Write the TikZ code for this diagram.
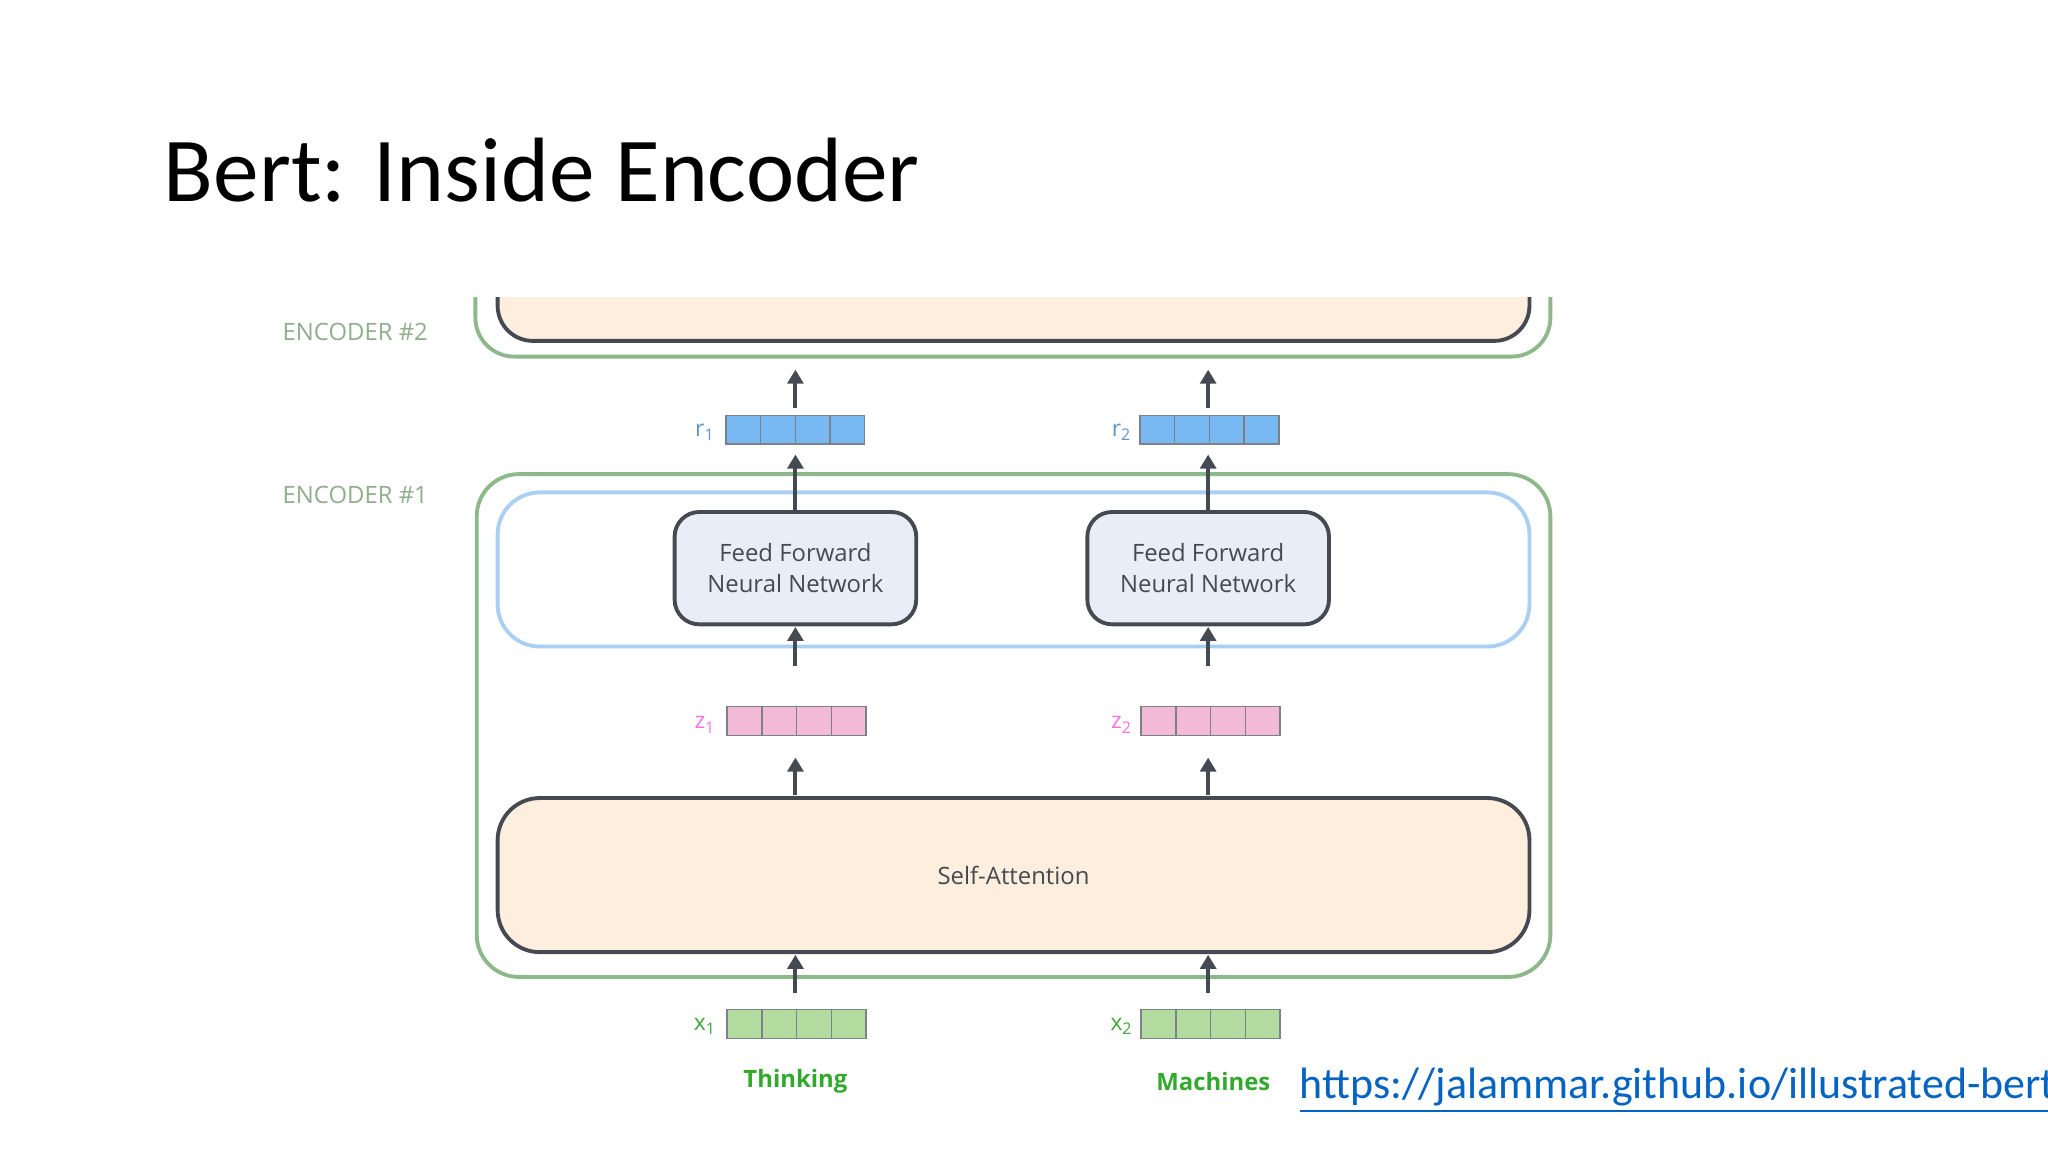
\documentclass[tikz,border=0pt]{standalone}
\usepackage{fontspec}
\setmainfont{Open Sans}
\newfontfamily\carlitofont{Carlito}
\usetikzlibrary{arrows.meta}
\definecolor{grn}{HTML}{8DB88A}
\definecolor{lbl}{HTML}{8FAE8C}
\definecolor{dk}{HTML}{454A52}
\definecolor{org}{HTML}{FDEEDE}
\definecolor{bl}{HTML}{A9CFF2}
\definecolor{ffn}{HTML}{E9EDF8}
\definecolor{rc}{HTML}{78B9F4}
\definecolor{zc}{HTML}{F3BAD8}
\definecolor{xc}{HTML}{B3DDA0}
\definecolor{link}{HTML}{0563C1}
\begin{document}
\begin{tikzpicture}[x=0.0130612cm,y=-0.0130612cm,
  box/.style={draw=dk,line width=1.1pt,rounded corners=7pt},
  arr/.style={draw=dk,line width=1.1pt,-{Triangle[length=4pt,width=4.5pt]}},
  cell/.style={draw=dk!70,line width=0.4pt,minimum width=26.6*0.0130612cm,minimum height=22*0.0130612cm,inner sep=0pt},
  lab/.style={font=\fontsize{6.5}{8}\selectfont},
  ff/.style={box,fill=ffn,minimum width=185*0.0130612cm,minimum height=86*0.0130612cm,align=center,text=dk,font=\fontsize{6.8}{9}\selectfont}]
\useasboundingbox (0,0) rectangle (1568,882);
\node[anchor=west,font=\carlitofont\fontsize{26}{30}\selectfont] (title) at (116,130) {Bert: Inside Encoder};
% encoder 2
\begin{scope}
\clip (300,228) rectangle (1250,300);
\draw[grn,line width=1.1pt,rounded corners=11pt] (364,150) rectangle (1187,273);
\draw[box,fill=org,rounded corners=10pt] (381,150) rectangle (1171,261);
\end{scope}
\node[text=lbl,font=\fontsize{6.8}{8}\selectfont] (e2) at (272,254) {ENCODER \#2};
\node[text=lbl,font=\fontsize{6.8}{8}\selectfont] (e1) at (272,379) {ENCODER \#1};
% encoder 1
\draw[grn,line width=1.1pt,rounded corners=12pt] (365,363) rectangle (1187,748);
\draw[bl,line width=1.1pt,rounded corners=12pt] (381,377) rectangle (1171,495);
\node[ff] (f1) at (609,435) {Feed Forward\\Neural Network};
\node[ff] (f2) at (925,435) {Feed Forward\\Neural Network};
\node[box,fill=org,rounded corners=12pt,minimum width=790*0.0130612cm,minimum height=118*0.0130612cm,text=dk,font=\fontsize{6.8}{8}\selectfont] (sa) at (776,670) {Self-Attention};
% vectors
\foreach \n/\cx/\cy/\c in {r1/609/329/rc,r2/926/329/rc,z1/610/552/zc,z2/927/552/zc,x1/610/784/xc,x2/927/784/xc}{
  \foreach \i in {0,1,2,3}{
    \node[cell,fill=\c] (\n c\i) at ({\cx-40+26.6*\i},\cy) {};
  }
  \coordinate (\n) at (\cx,\cy);
}
\node[text=rc!80!black,lab] (lr1) at (540,331) {r\textsubscript{1}};
\node[text=rc!80!black,lab] (lr2) at (859,331) {r\textsubscript{2}};
\node[text=zc!60!magenta,lab] (lz1) at (540,555) {z\textsubscript{1}};
\node[text=zc!60!magenta,lab] (lz2) at (859,555) {z\textsubscript{2}};
\node[text=xc!50!green!70!black,lab] (lx1) at (540,786) {x\textsubscript{1}};
\node[text=xc!50!green!70!black,lab] (lx2) at (859,786) {x\textsubscript{2}};
\node[text=xc!40!green!70!black,font=\fontsize{6.8}{8}\selectfont\bfseries] (t1) at (609,828) {Thinking};
\node[text=xc!40!green!70!black,font=\fontsize{6.8}{8}\selectfont\bfseries] (t2) at (929,828) {Machines};
% arrows
\foreach \x/\s in {609/1,925/2}{
  \coordinate (a\s) at (\x,760); \coordinate (b\s) at (\x,731);
  \coordinate (c\s) at (\x,609); \coordinate (d\s) at (\x,580);
  \coordinate (e\s) at (\x,510); \coordinate (f\s) at (\x,480);
  \coordinate (g\s) at (\x,392); \coordinate (h\s) at (\x,348);
  \coordinate (i\s) at (\x,312); \coordinate (j\s) at (\x,283);
  \draw[arr] (a\s) -- (b\s); \draw[arr] (c\s) -- (d\s); \draw[arr] (e\s) -- (f\s);
  \draw[arr] (g\s) -- (h\s); \draw[arr] (i\s) -- (j\s);
}
\node[text=link,font=\carlitofont\fontsize{12.5}{15}\selectfont] (url) at (1291,835) {\underline{https://jalammar.github.io/illustrated-bert/}};
\end{tikzpicture}
\end{document}
